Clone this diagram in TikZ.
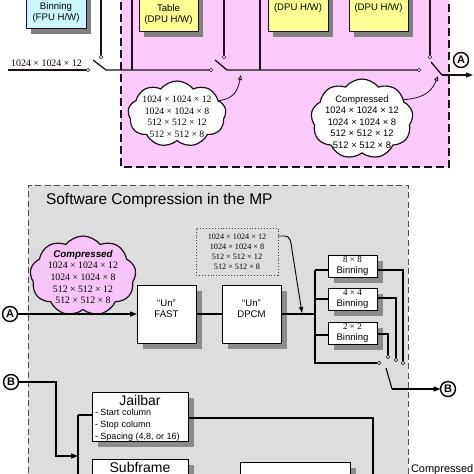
\documentclass[tikz,border=0pt]{standalone}
\usepackage{fontspec}
\setmainfont{Liberation Sans}
\newfontfamily\serifnum{Liberation Serif}
\usetikzlibrary{arrows.meta,shapes.symbols,shadows}
\definecolor{pinkbg}{RGB}{250,202,250}
\definecolor{pinkcl}{RGB}{246,196,246}
\definecolor{cyanbox}{RGB}{204,246,252}
\definecolor{yelbox}{RGB}{255,255,150}
\definecolor{graybg}{RGB}{221,221,221}
\definecolor{shtop}{RGB}{128,128,128}
\definecolor{shbot}{RGB}{140,140,140}
\definecolor{ink}{RGB}{30,15,30}
\newcommand{\fs}[2]{\fontsize{#1}{#2}\selectfont}
\begin{document}
\begin{tikzpicture}[x=1pt,y=-1pt,
  every node/.style={inner sep=0pt,outer sep=0pt},
  wire/.style={line width=1.3pt,draw=ink},
  bwire/.style={line width=1.1pt,draw=black},
  cloudarrow/.style={line width=0.8pt,draw=ink,-{Triangle[open,length=5pt,width=4pt]}},
  endarrow/.style={-{Triangle[length=7pt,width=5pt]}},
  contact/.style={circle,draw=ink,line width=0.6pt,fill=white,minimum size=3.4pt},
  topbox/.style={rectangle,draw=ink,line width=1pt,drop shadow={shadow xshift=5pt,shadow yshift=-6pt,fill=shtop,opacity=1}},
  botbox/.style={rectangle,draw=black,line width=0.9pt,fill=white,drop shadow={shadow xshift=6pt,shadow yshift=-6pt,fill=shbot,opacity=1}},
  hwtext/.style={align=center,font=\fs{9.6}{11.2}},
  numtext/.style={align=center,font=\serifnum\fs{9.7}{11.6}},
  puff/.style={cloud,draw=ink,line width=1.2pt,cloud puffs=9,cloud puff arc=105,cloud ignores aspect},
  port/.style={circle,draw=black,line width=1.4pt,fill=white,minimum size=15pt,font=\bfseries\fs{11}{11}},
]
\useasboundingbox (0,0) rectangle (474,474);
% ---------- regions ----------
\fill[pinkbg] (121,-10) rectangle (449,167);
\draw[line width=1.8pt,ink,dash pattern=on 8pt off 4pt] (121,-10) -- (121,167) -- (449,167) -- (449,-10);
\fill[graybg] (28,185) rectangle (408,520);
\draw[line width=0.8pt,black!70,dash pattern=on 6pt off 3.5pt] (28,520) -- (28,185) -- (408,185) -- (408,520);

% ---------- top hardware boxes ----------
\node[topbox,fill=cyanbox,minimum width=60pt,minimum height=50pt] (fpu) at (56,3) {};
\node[hwtext] (fput) at (56,12.5) {Binning\\(FPU H/W)};
\node[topbox,fill=yelbox,minimum width=59pt,minimum height=50pt] (lut) at (168.5,6) {};
\node[hwtext] (lutt) at (168.5,14.5) {Table\\(DPU H/W)};
\node[topbox,fill=yelbox,minimum width=60pt,minimum height=50pt] (dpua) at (298,6) {};
\node[hwtext] (dpuat) at (298,8.5) {(DPU H/W)};
\node[topbox,fill=yelbox,minimum width=59pt,minimum height=50pt] (dpub) at (378.5,6) {};
\node[hwtext] (dpubt) at (378.5,8.5) {(DPU H/W)};

% ---------- top wiring ----------
\coordinate (in0) at (8,70);
\node[contact] (k1a) at (88,70) {};
\node[contact] (k1b) at (101,57) {};
\coordinate (k1top) at (101,-5);
\coordinate (l1a) at (93,60);
\coordinate (l1b) at (106,70);
\node[contact] (k2a) at (211,70) {};
\coordinate (j1top) at (132,-5);
\coordinate (j1) at (132,70);
\node[contact] (k2b) at (224,57) {};
\coordinate (k2top) at (224,-5);
\coordinate (l2a) at (215,60);
\coordinate (l2b) at (227,70);
\node[contact] (k3a) at (419,70) {};
\coordinate (j2top) at (260,-5);
\coordinate (j2) at (260,70);
\node[contact] (k3b) at (430,57) {};
\coordinate (k3top) at (430,-5);
\coordinate (l3a) at (431,62);
\coordinate (l3b) at (442,75);
\coordinate (outA) at (473,75);
\node[port] (A1) at (461,60) {A};

\draw[wire] (in0) -- (k1a);
\draw[wire] (k1top) -- (k1b);
\draw[wire] (l1a) -- (l1b) -- (k2a);
\draw[wire] (j1top) -- (j1);
\draw[wire] (k2top) -- (k2b);
\draw[wire] (l2a) -- (l2b) -- (k3a);
\draw[wire] (j2top) -- (j2);
\draw[wire] (k3top) -- (k3b);
\draw[wire] (l3a) -- (l3b);
\draw[wire,endarrow] (l3b) -- (outA);

\node[font=\serifnum\fs{9.9}{11}] (inlbl) at (46.5,63) {1024 × 1024 × 12};

% ---------- top clouds ----------
\node[puff,fill=white,minimum width=98pt,minimum height=66pt] (c1) at (177,114) {};
\node[numtext] (c1t) at (177,117) {1024 × 1024 × 12\\1024 × 1024 × 8\\512 × 512 × 12\\512 × 512 × 8};
\node[puff,fill=white,minimum width=102pt,minimum height=80pt] (c2) at (362,119) {};
\node[align=center,font=\fs{9.4}{11.6}] (c2t) at (362,122) {Compressed\\1024 × 1024 × 12\\1024 × 1024 × 8\\512 × 512 × 12\\512 × 512 × 8};
\coordinate (t1) at (241,75);
\draw[cloudarrow] (c1.18) .. controls (236,99) and (238,88) .. (t1);
\coordinate (t2) at (438,76);
\draw[cloudarrow] (c2.25) .. controls (428,98) and (433,88) .. (t2);

% ---------- bottom ----------
\node[anchor=west,font=\fs{15.5}{18}] (title) at (46,200) {Software Compression in the MP};
\node[puff,fill=pinkcl,minimum width=106pt,minimum height=80pt] (c3) at (83,276) {};
\node[align=center,font=\serifnum\fs{9.8}{11.6}] (c3t) at (83,277) {{\rmfamily\bfseries\itshape Compressed}\\1024 × 1024 × 12\\1024 × 1024 × 8\\512 × 512 × 12\\512 × 512 × 8};

\node[draw=black!75,dotted,line width=0.9pt,minimum width=82pt,minimum height=47pt,align=center,font=\serifnum\fs{8.2}{10}] (dbox) at (237,251.5) {1024 × 1024 × 12\\1024 × 1024 × 8\\512 × 512 × 12\\512 × 512 × 8};

\node[botbox,minimum width=59pt,minimum height=58pt] (fast) at (166.5,314) {};
\node[hwtext] (fastt) at (166.5,309) {“Un”\\FAST};
\node[botbox,minimum width=59pt,minimum height=58pt] (dpcm) at (251.5,314) {};
\node[hwtext] (dpcmt) at (251.5,309) {“Un”\\DPCM};

\node[botbox,minimum width=49pt,minimum height=22pt,align=center,font=\fs{9.5}{10.5}] (b8) at (352.5,266) {{\serifnum\fs{9}{10.5}8 × 8}\\Binning};
\node[botbox,minimum width=49pt,minimum height=22pt,align=center,font=\fs{9.5}{10.5}] (b4) at (352.5,299) {{\serifnum\fs{9}{10.5}4 × 4}\\Binning};
\node[botbox,minimum width=49pt,minimum height=22pt,align=center,font=\fs{9.5}{10.5}] (b2) at (352.5,333) {{\serifnum\fs{9}{10.5}2 × 2}\\Binning};

\node[port] (A2) at (10,314) {A};
\draw[bwire,endarrow] (A2) -- (fast);
\draw[bwire] (fast) -- (dpcm);
\coordinate (busT) at (315,270);
\coordinate (busM) at (315,314);
\coordinate (busB) at (315,363);
\coordinate (br4) at (315,299);
\coordinate (br2) at (315,335);
\node[contact,draw=black] (cb) at (379,363) {};
\draw[bwire] (dpcm) -- (busM);
\draw[bwire] (busT) -- (busB) -- (cb);
\draw[bwire] (busT) -- (busT -| b8.west);
\draw[bwire] (br4) -- (br4 -| b4.west);
\draw[bwire] (br2) -- (br2 -| b2.west);
\coordinate (o8) at (403,270);
\coordinate (o4) at (396,298);
\coordinate (o2) at (388,334);
\node[contact,draw=black] (c8) at (403,363) {};
\node[contact,draw=black] (c4) at (396,360) {};
\node[contact,draw=black] (c2o) at (388,357) {};
\draw[bwire] (o8 -| b8.east) -- (o8) -- (c8);
\draw[bwire] (o4 -| b4.east) -- (o4) -- (c4);
\draw[bwire] (o2 -| b2.east) -- (o2) -- (c2o);
\coordinate (l4a) at (386,368);
\coordinate (l4b) at (392,389);
\node[port] (B1) at (448,389) {B};
\draw[bwire] (l4a) -- (l4b);
\draw[bwire,endarrow] (l4b) -- (B1);

\coordinate (dt) at (302,313);
\draw[line width=0.9pt,-{Triangle[length=6pt,width=4pt]}] (dbox.east |- 0,236) -- (285,236) .. controls (290,236) and (291.2,242) .. (292,250) -- (dt);

% Jailbar / Subframe
\node[botbox,minimum width=96pt,minimum height=49pt] (jail) at (140,416.5) {};
\node[font=\fs{14}{16}] (jailt) at (140,400.5) {Jailbar};
\node[anchor=west,align=left,font=\fs{9}{12}] (jaill) at (95,425) {- Start column\\- Stop column\\- Spacing (4,8, or 16)};
\node[botbox,minimum width=96pt,minimum height=54pt] (subf) at (140,486) {};
\node[font=\fs{14}{16}] (subft) at (140,467.5) {Subframe};
\node[botbox,minimum width=110pt,minimum height=50pt] (box3) at (295,487) {};
\node[anchor=west,font=\fs{11}{13}] (cmp) at (411,470) {Compressed};

\node[port] (B2) at (11,382) {B};
\coordinate (bl1) at (56,382);
\coordinate (bl2) at (56,456);
\coordinate (bl3) at (78,456);
\draw[bwire,endarrow] (B2) -- (bl1) -- (bl2) -- (bl3);
\coordinate (jb1) at (78,415);
\coordinate (jb2) at (78,480);
\draw[bwire] (jb1) -- (jb2);
\draw[bwire] (jb1) -- (jb1 -| jail.west);
\coordinate (jr1) at (373,418);
\coordinate (jr2) at (373,480);
\draw[bwire] (jr1 -| jail.east) -- (jr1) -- (jr2);
\end{tikzpicture}
\end{document}
